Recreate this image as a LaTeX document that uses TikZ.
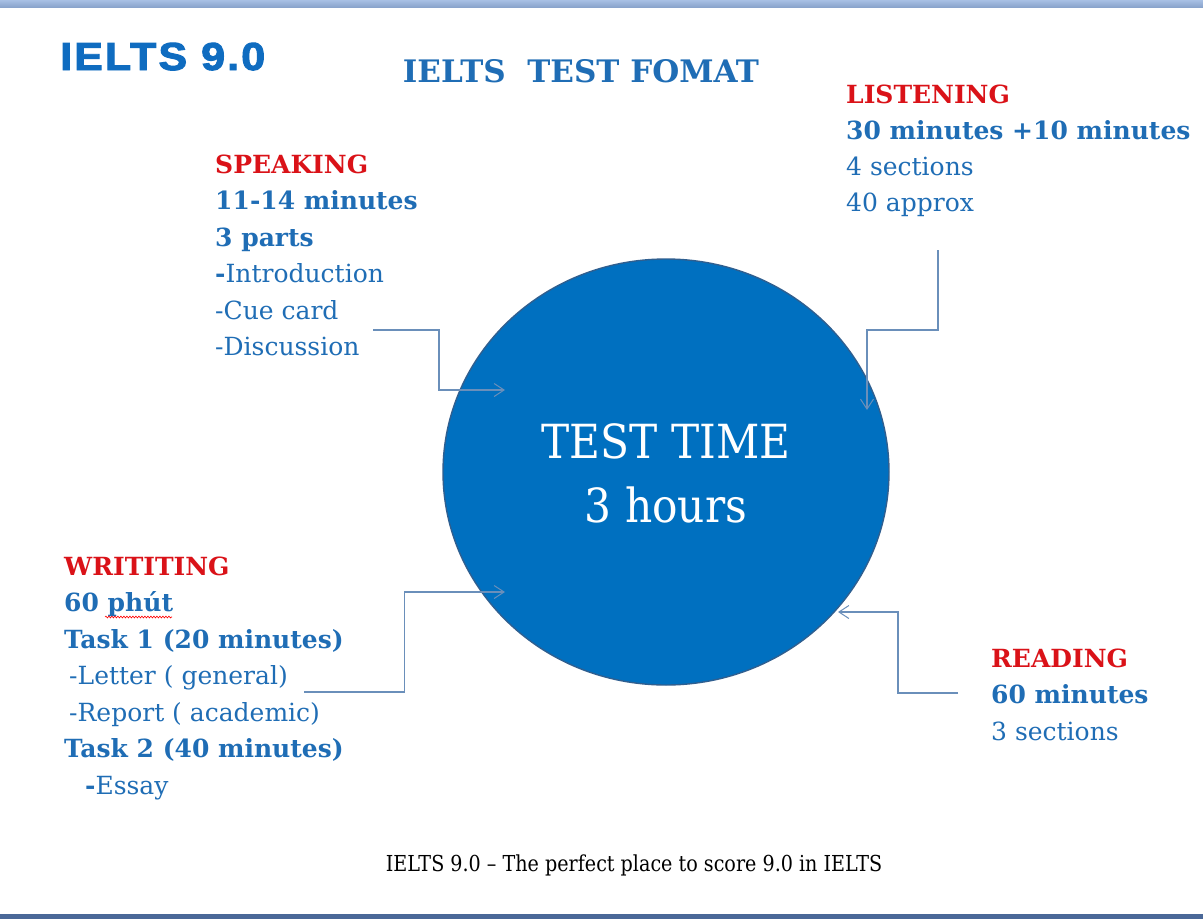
\documentclass[tikz,border=0pt]{standalone}
\usepackage{fontspec}
\setmainfont{DejaVu Serif}
\newfontfamily\headfont[FakeBold=2.5,LetterSpace=5]{Liberation Sans Bold}
\newfontfamily\circfont[FakeStretch=0.9]{DejaVu Serif}
\newfontfamily\capfont[FakeStretch=0.87]{DejaVu Serif}
\usetikzlibrary{arrows.meta,decorations.pathmorphing,calc,shapes.geometric}
\definecolor{tblue}{HTML}{1F6DB5}
\definecolor{lblue}{HTML}{0F6CC0}
\definecolor{tred}{HTML}{DA1218}
\definecolor{cfill}{HTML}{0070C0}
\definecolor{cedge}{HTML}{2F5F90}
\definecolor{conncol}{HTML}{6A8FBA}
\definecolor{bartop}{HTML}{A8C0E4}
\definecolor{barbot}{HTML}{8AA4CC}
\definecolor{barlow}{HTML}{4A6898}
\tikzset{
  blk/.style={anchor=north west, inner sep=0pt, align=left, text=tblue,
    font=\fontsize{25}{36.5}\selectfont},
  conn/.style={draw=conncol, line width=1.1pt,
    -{Straight Barb[length=10pt,width=13pt,line width=1pt]}},
  plain/.style={inner sep=0pt}
}
\newcommand{\hd}[1]{\textcolor{tred}{\bfseries #1}}
\begin{document}
\begin{tikzpicture}[x=1pt,y=-1pt]
\useasboundingbox (0,0) rectangle (1203,919);
\fill[white] (0,0) rectangle (1203,919);
\shade[top color=bartop, bottom color=barbot] (0,0) rectangle (1203,7);
\fill[barlow] (0,914) rectangle (1203,919);

% headers
\node[plain, anchor=base west, text=lblue] (logo) at (60,70)
  {\scalebox{1.1}[1]{\headfont\fontsize{39}{40}\selectfont IELTS 9.0}};
\node[plain, anchor=base, text=tblue] (title) at (581,82)
  {\fontsize{31}{34}\selectfont\bfseries IELTS\ \ TEST FOMAT};

% central circle
\node[ellipse, fill=cfill, draw=cedge, line width=1.4pt, minimum width=446pt,
  minimum height=426pt, inner sep=0pt] (circ) at (666,472) {};
\node[plain, anchor=base, text=white] (tt1) at (666,458)
  {\circfont\fontsize{47}{50}\selectfont TEST TIME};
\node[plain, anchor=base, text=white] (tt2) at (666,522)
  {\circfont\fontsize{47}{50}\selectfont 3 hours};

% text blocks
\node[blk] (speak) at (215,149) {\rule{0pt}{24pt}\hd{SPEAKING}\\
  {\bfseries 11-14 minutes}\\
  {\bfseries 3 parts}\\
  {\bfseries -}Introduction\\
  -Cue card\\
  -Discussion};
\node[blk, font=\fontsize{25}{36}\selectfont] (listen) at (846,79) {\rule{0pt}{24pt}\hd{LISTENING}\\
  {\bfseries 30 minutes +10 minutes}\\
  4 sections\\
  40 approx};
\node[blk] (write) at (64,551) {\rule{0pt}{24pt}\hd{WRITITING}\\
  {\bfseries 60 phút}\\
  {\bfseries Task 1 (20 minutes)}\\
  \hspace*{5pt}-Letter ( general)\\
  \hspace*{5pt}-Report ( academic)\\
  {\bfseries Task 2 (40 minutes)}\\
  \hspace*{21pt}{\bfseries -}Essay};
\node[blk] (read) at (991,643) {\rule{0pt}{24pt}\hd{READING}\\
  {\bfseries 60 minutes}\\
  3 sections};

% spelling squiggle under "phút"
\draw[red, line width=0.6pt, decorate,
  decoration={snake, amplitude=0.9pt, segment length=3pt}] (105,617) -- (172,617);

% caption
\node[plain, anchor=base, text=black] (cap) at (634,871)
  {\capfont\fontsize{22}{24}\selectfont IELTS 9.0 – The perfect place to score 9.0 in IELTS};

% connectors
\coordinate (sA) at (373,330); \coordinate (sB) at (505,390);
\coordinate (lA) at (938,250); \coordinate (lB) at (867,410);
\coordinate (wA) at (304,692); \coordinate (wB) at (505,592);
\coordinate (rA) at (958,693); \coordinate (rB) at (838,612);
\draw[conn] (sA) -| ($(sA)!0.5!(sB)$) |- (sB);
\draw[conn] (lA) |- ($(lA)!0.5!(lB)$) -| (lB);
\draw[conn] (wA) -| ($(wA)!0.5!(wB)$) |- (wB);
\draw[conn] (rA) -| ($(rA)!0.5!(rB)$) |- (rB);
\end{tikzpicture}
\end{document}
